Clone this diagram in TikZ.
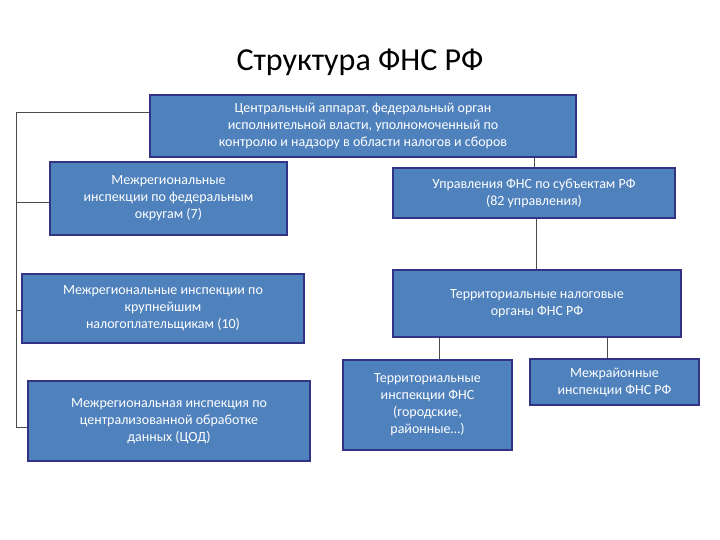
\documentclass[tikz,border=0pt]{standalone}
\usepackage{fontspec}
\setmainfont{Carlito}
\begin{document}
\begin{tikzpicture}[x=1pt,y=-1pt,
  bx/.style={draw=blue!40!black!80, line width=1.2pt, fill={rgb,255:red,79;green,129;blue,189}, text=white, align=center, inner sep=0pt, font=\fontsize{14}{17}\selectfont},
  ln/.style={draw=black!70, line width=0.6pt}]
\useasboundingbox[fill=white] (0,0) rectangle (720,540);
\node[font=\fontsize{32}{36}\selectfont] (title) at (360,62) {Структура ФНС РФ};
\node[bx, minimum width=426, minimum height=62] (top) at (363,126) {Центральный аппарат, федеральный орган\\исполнительной власти, уполномоченный по\\контролю и надзору в области налогов и сборов};
\node[bx, minimum width=237, minimum height=73] (a) at (168.5,198.5) {Межрегиональные\\инспекции по федеральным\\округам (7)};
\node[bx, minimum width=282, minimum height=69] (b) at (163,308.5) {Межрегиональные инспекции по\\крупнейшим\\налогоплательщикам  (10)};
\node[bx, minimum width=282, minimum height=80] (c) at (169,421) {Межрегиональная инспекция по\\централизованной обработке\\данных (ЦОД)};
\node[bx, minimum width=282, minimum height=50] (u) at (534,193) {Управления ФНС по субъектам РФ\\(82 управления)};
\node[bx, minimum width=288, minimum height=67] (t) at (537,303.5) {Территориальные налоговые\\органы ФНС РФ};
\node[bx, minimum width=169, minimum height=90] (ti) at (427.5,405) {Территориальные\\инспекции ФНС\\(городские,\\районные…)};
\node[bx, minimum width=169, minimum height=46] (mi) at (614.5,382) {Межрайонные\\инспекции ФНС РФ};
\coordinate (bt) at (16,112);
\coordinate (bb) at (16,427);
\draw[ln] (top.west |- bt) -- (bt) -- (bb) -- (c.west |- bb);
\draw[ln] (16,202) -- (a.west |- 0,202);
\draw[ln] (16,310) -- (b.west |- 0,310);
\draw[ln] (top.south -| 534,0) -- (u.north -| 534,0);
\draw[ln] (u.south -| 536,0) -- (t.north -| 536,0);
\draw[ln] (t.south -| 439,0) -- (ti.north -| 439,0);
\draw[ln] (t.south -| 607,0) -- (mi.north -| 607,0);
\end{tikzpicture}
\end{document}
